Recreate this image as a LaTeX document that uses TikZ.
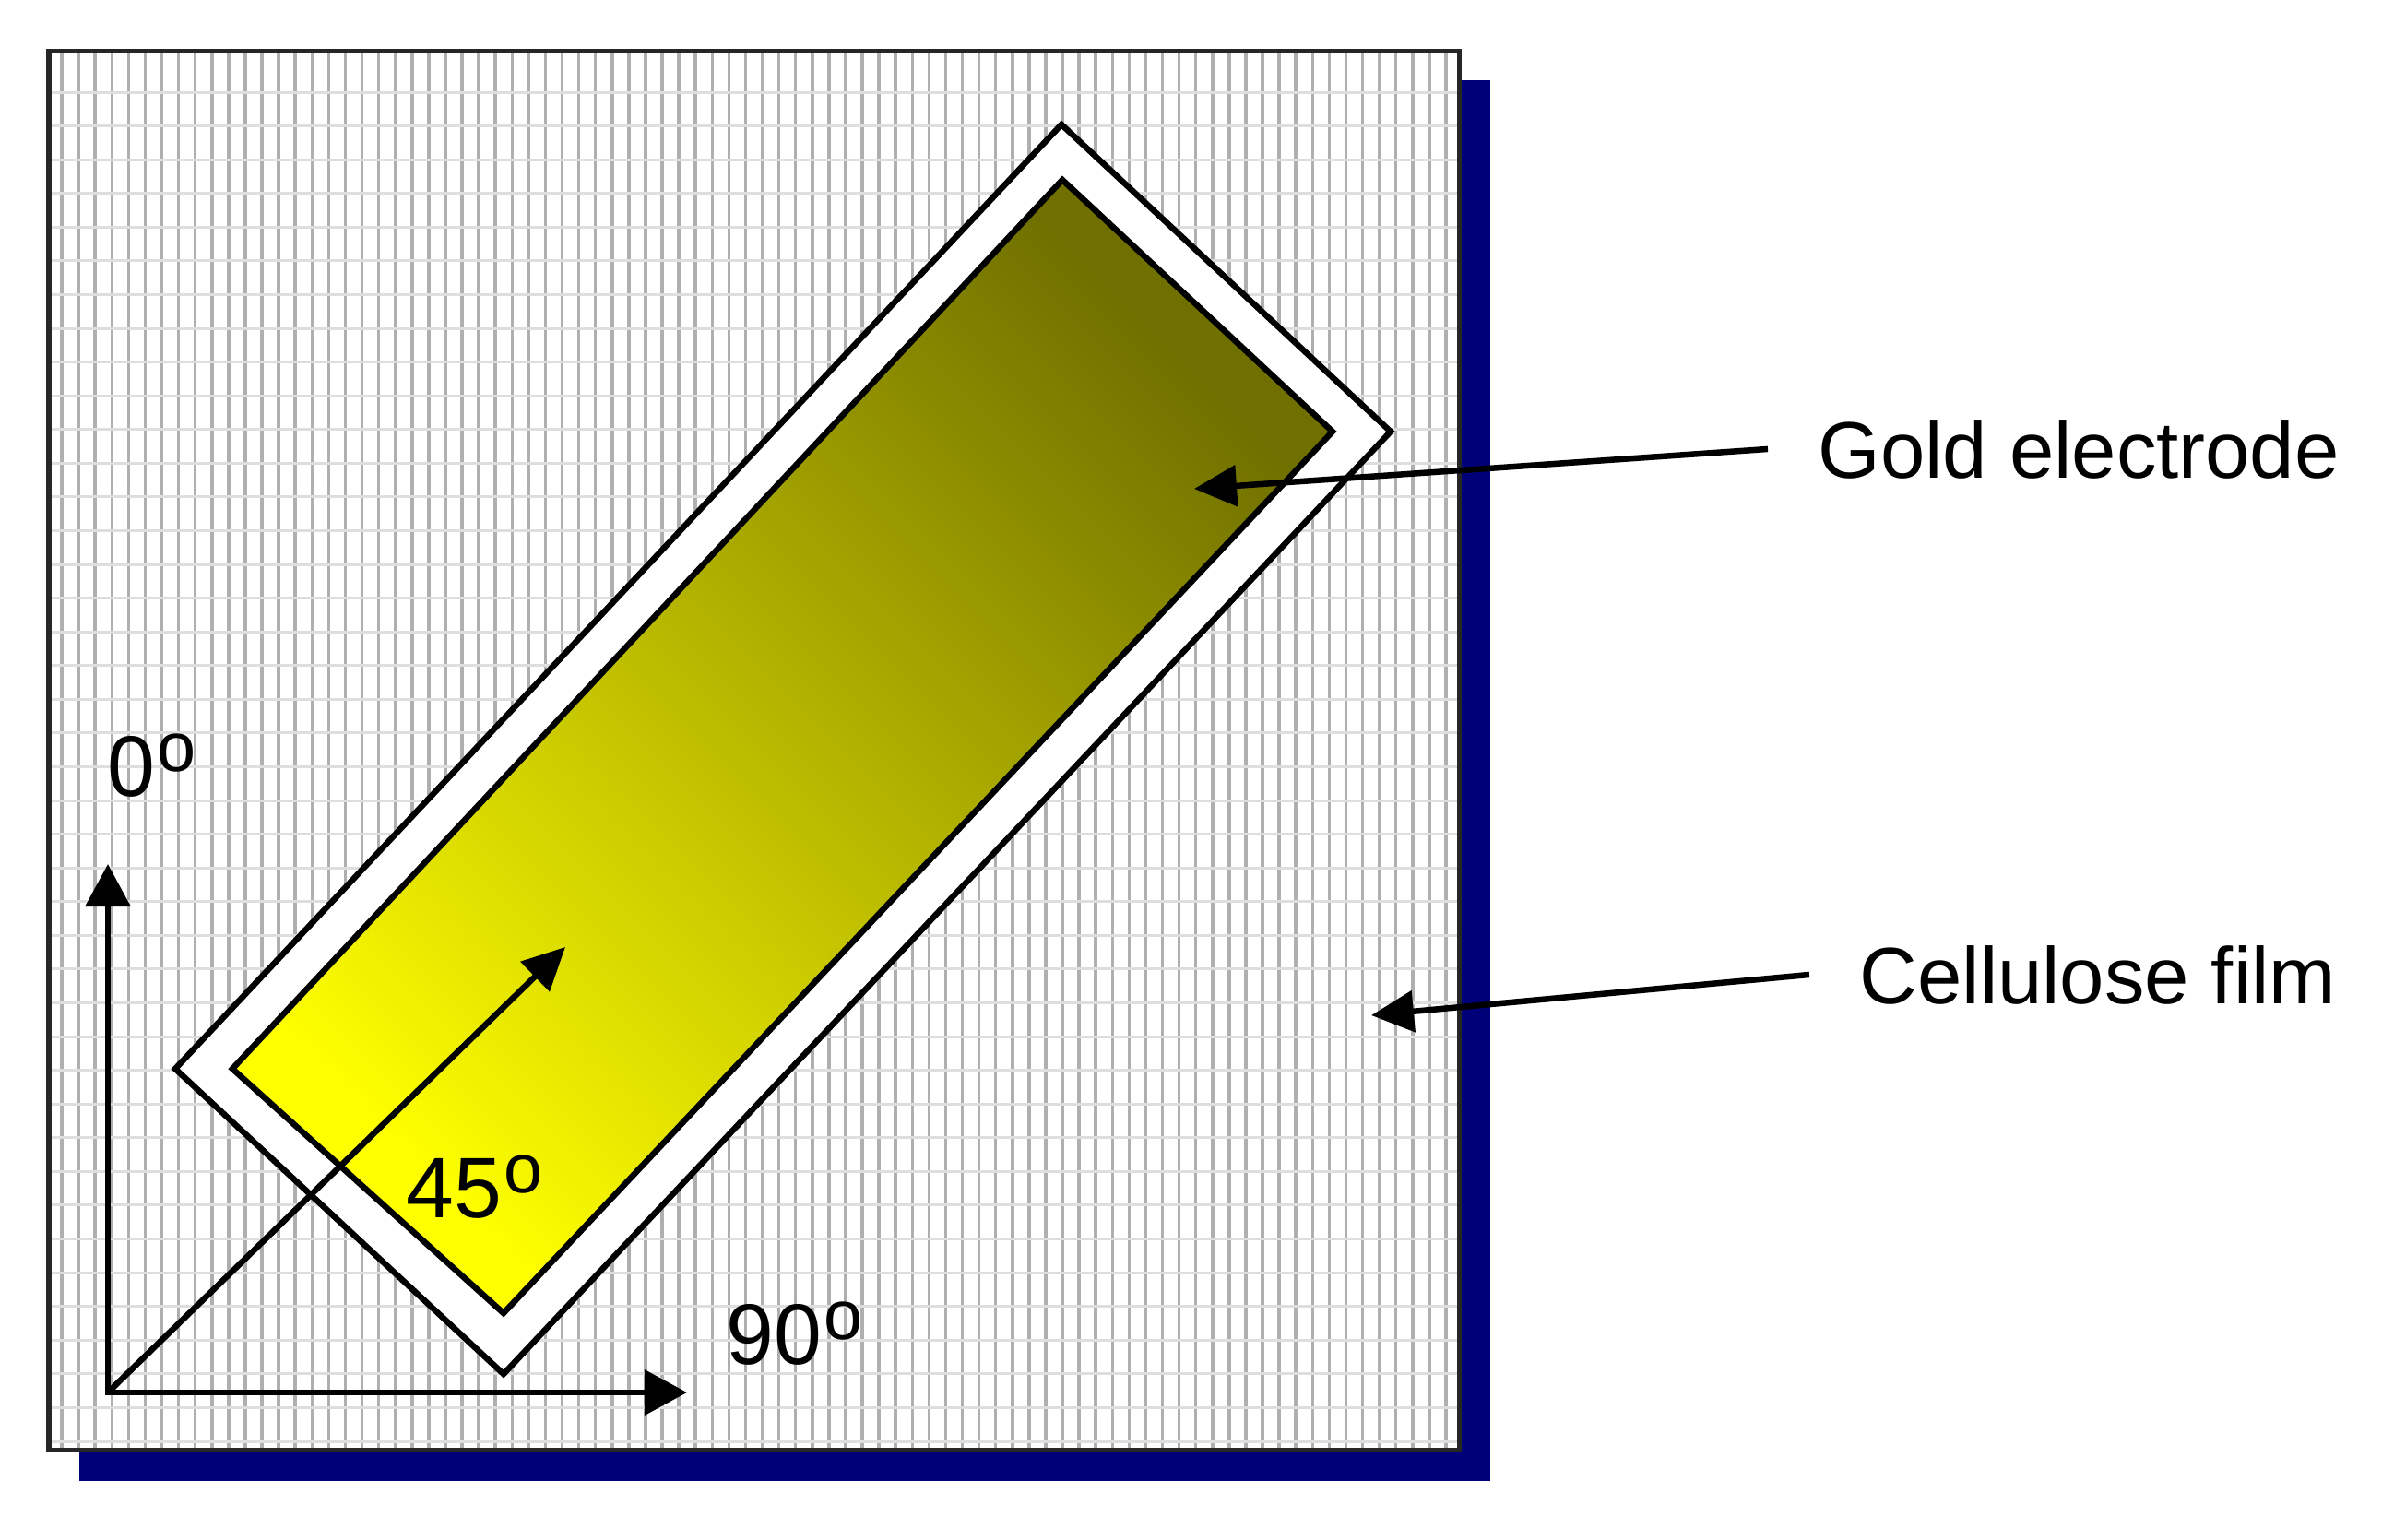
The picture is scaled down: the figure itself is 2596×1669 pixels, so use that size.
\documentclass[tikz,border=0pt]{standalone}
\usepackage{fontspec}
\setmainfont{Liberation Sans}
\usetikzlibrary{arrows.meta}

\definecolor{shadowblue}{RGB}{0,0,120}
\definecolor{goldlight}{RGB}{255,255,0}
\definecolor{goldmid}{RGB}{205,205,0}
\definecolor{golddark}{RGB}{112,112,0}
\definecolor{vgrid}{RGB}{175,175,175}
\definecolor{hgrid}{RGB}{222,222,222}

\newcommand{\degmark}{\kern0.6pt\raisebox{7.6pt}{\fontsize{21.5}{22}\selectfont o}}

\begin{document}
\begin{tikzpicture}[x=0.01cm,y=-0.01cm,
  pointer/.style={line width=0.065cm,-{Triangle[length=0.46cm,width=0.44cm]}},
  txtlbl/.style={inner xsep=0.54cm,inner ysep=0pt,anchor=base west,font=\fontsize{24.7}{30}\selectfont},
  deglbl/.style={inner sep=0pt,anchor=base west,font=\fontsize{26.5}{31}\selectfont}]
\useasboundingbox (0,0) rectangle (2596,1669);

% film with its shadow
\fill[shadowblue] (86,87) rectangle (1616,1606);
\fill[white] (53,55) rectangle (1582,1572);
\foreach \i in {0,...,83}
  \draw[vgrid,line width=0.035cm] ({67+18.084*\i},57) -- ({67+18.084*\i},1570);
\foreach \j in {0,...,40}
  \draw[hgrid,line width=0.03cm] (55,{100+36.575*\j}) -- (1580,{100+36.575*\j});
\draw[line width=0.05cm,black!85] (53,55) rectangle (1582,1572);

% electrode
\draw[line width=0.065cm,fill=white] (1151,135) -- (1508,468) -- (546,1490) -- (190,1159) -- cycle;
\draw[line width=0.065cm,bottom color=goldlight,middle color=goldmid,top color=golddark,shading angle=-45]
  (1152,195) -- (1445,468) -- (546,1424) -- (252,1159) -- cycle;

% directions
\coordinate (axorigin) at (117,1510);
\coordinate (axzero) at (117,937);
\coordinate (axninety) at (745,1510);
\coordinate (axdiag) at (613,1027);
\draw[line width=0.065cm,{Triangle[length=0.46cm,width=0.48cm]}-{Triangle[length=0.46cm,width=0.48cm]}]
  (axzero) -- (axorigin) -- (axninety);
\draw[pointer] (axorigin) -- (axdiag);

\node[deglbl] (zero) at (116,863) {0\degmark};
\node[deglbl] (ninety) at (787,1479) {90\degmark};
\node[deglbl] (fortyfive) at (440,1320) {45\degmark};

% labels
\node[txtlbl] (gold) at (1917,518) {Gold electrode};
\node[txtlbl] (film) at (1962,1088) {Cellulose film};
\coordinate (goldtip) at (1295,530);
\coordinate (filmtip) at (1487,1101);
\draw[pointer] (gold.west) -- (goldtip);
\draw[pointer] (film.west) -- (filmtip);
\end{tikzpicture}
\end{document}
